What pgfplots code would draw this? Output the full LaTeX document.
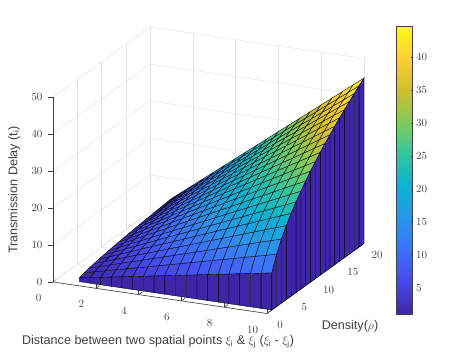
\documentclass[border=0pt]{standalone}
\usepackage{pgfplots}
\pgfplotsset{compat=1.18}
\usepackage{fontspec}
\setmainfont{Liberation Sans}
\definecolor{axc}{rgb}{0.25,0.25,0.25}
\pgfplotsset{colormap={parula}{rgb=(.2422,.1504,.6603) rgb=(.2803,.2782,.9221) rgb=(.2440,.4358,.9988) rgb=(.1540,.5902,.9218) rgb=(.0297,.7082,.8163) rgb=(.1938,.7758,.6251) rgb=(.5044,.7993,.3480) rgb=(.8203,.7498,.1535) rgb=(.9892,.8136,.1885) rgb=(.9769,.9839,.0805)}}
\newcommand{\fs}{\fontsize{11}{13}\selectfont}
\begin{document}
\begin{tikzpicture}[x=1pt,y=1pt]
\path[use as bounding box] (0,0) rectangle (474,355);
\begin{axis}[
  at={(53pt,73pt)}, anchor=origin,
  x={(21.4pt,-3.15pt)}, y={(4.85pt,3.5pt)}, z={(0pt,3.7pt)},
  xmin=0,xmax=10,ymin=0,ymax=20,zmin=0,zmax=50,
  xtick={0,2,4,6,8,10}, ytick={0,5,10,15,20}, ztick={0,10,20,30,40,50},
  axis x line*=bottom, axis y line*=left, axis z line*=left,
  grid=major, grid style={gray!22,line width=0.5pt},
  axis line style={color=axc,line width=0.6pt},
  tick style={color=axc,line width=0.6pt}, major tick length=4.5pt, tick align=inside,
  tick label style={font=\fs,text=axc},
  x tick label style={anchor=center,xshift=-14.5pt,yshift=-16pt},
  y tick label style={anchor=center,xshift=13pt,yshift=-11pt},
  z tick label style={anchor=east,xshift=-7pt},
  z tick style={draw=none},
  colormap name=parula, point meta min=1, point meta max=44.72,
  clip=false,
]
\addplot3[surf,shader=faceted,faceted color=black,line width=0.35pt,point meta=z,z buffer=sort,mesh/ordering=x varies,mesh/cols=19] coordinates {
(1,1,1)(1.5,1,1.5)(2,1,2)(2.5,1,2.5)(3,1,3)(3.5,1,3.5)(4,1,4)(4.5,1,4.5)(5,1,5)(5.5,1,5.5)(6,1,6)(6.5,1,6.5)(7,1,7)(7.5,1,7.5)(8,1,8)(8.5,1,8.5)(9,1,9)(9.5,1,9.5)(10,1,10)
(1,2,1.41)(1.5,2,2.12)(2,2,2.83)(2.5,2,3.54)(3,2,4.24)(3.5,2,4.95)(4,2,5.66)(4.5,2,6.36)(5,2,7.07)(5.5,2,7.78)(6,2,8.49)(6.5,2,9.19)(7,2,9.90)(7.5,2,10.61)(8,2,11.31)(8.5,2,12.02)(9,2,12.73)(9.5,2,13.44)(10,2,14.14)
(1,3,1.73)(1.5,3,2.60)(2,3,3.46)(2.5,3,4.33)(3,3,5.20)(3.5,3,6.06)(4,3,6.93)(4.5,3,7.79)(5,3,8.66)(5.5,3,9.53)(6,3,10.39)(6.5,3,11.26)(7,3,12.12)(7.5,3,12.99)(8,3,13.86)(8.5,3,14.72)(9,3,15.59)(9.5,3,16.45)(10,3,17.32)
(1,4,2)(1.5,4,3)(2,4,4)(2.5,4,5)(3,4,6)(3.5,4,7)(4,4,8)(4.5,4,9)(5,4,10)(5.5,4,11)(6,4,12)(6.5,4,13)(7,4,14)(7.5,4,15)(8,4,16)(8.5,4,17)(9,4,18)(9.5,4,19)(10,4,20)
(1,5,2.24)(1.5,5,3.35)(2,5,4.47)(2.5,5,5.59)(3,5,6.71)(3.5,5,7.83)(4,5,8.94)(4.5,5,10.06)(5,5,11.18)(5.5,5,12.30)(6,5,13.42)(6.5,5,14.53)(7,5,15.65)(7.5,5,16.77)(8,5,17.89)(8.5,5,19.01)(9,5,20.12)(9.5,5,21.24)(10,5,22.36)
(1,6,2.45)(1.5,6,3.67)(2,6,4.90)(2.5,6,6.12)(3,6,7.35)(3.5,6,8.57)(4,6,9.80)(4.5,6,11.02)(5,6,12.25)(5.5,6,13.47)(6,6,14.70)(6.5,6,15.92)(7,6,17.15)(7.5,6,18.37)(8,6,19.60)(8.5,6,20.82)(9,6,22.05)(9.5,6,23.27)(10,6,24.49)
(1,7,2.65)(1.5,7,3.97)(2,7,5.29)(2.5,7,6.61)(3,7,7.94)(3.5,7,9.26)(4,7,10.58)(4.5,7,11.91)(5,7,13.23)(5.5,7,14.55)(6,7,15.87)(6.5,7,17.20)(7,7,18.52)(7.5,7,19.84)(8,7,21.17)(8.5,7,22.49)(9,7,23.81)(9.5,7,25.13)(10,7,26.46)
(1,8,2.83)(1.5,8,4.24)(2,8,5.66)(2.5,8,7.07)(3,8,8.49)(3.5,8,9.90)(4,8,11.31)(4.5,8,12.73)(5,8,14.14)(5.5,8,15.56)(6,8,16.97)(6.5,8,18.38)(7,8,19.80)(7.5,8,21.21)(8,8,22.63)(8.5,8,24.04)(9,8,25.46)(9.5,8,26.87)(10,8,28.28)
(1,9,3)(1.5,9,4.5)(2,9,6)(2.5,9,7.5)(3,9,9)(3.5,9,10.5)(4,9,12)(4.5,9,13.5)(5,9,15)(5.5,9,16.5)(6,9,18)(6.5,9,19.5)(7,9,21)(7.5,9,22.5)(8,9,24)(8.5,9,25.5)(9,9,27)(9.5,9,28.5)(10,9,30)
(1,10,3.16)(1.5,10,4.74)(2,10,6.32)(2.5,10,7.91)(3,10,9.49)(3.5,10,11.07)(4,10,12.65)(4.5,10,14.23)(5,10,15.81)(5.5,10,17.39)(6,10,18.97)(6.5,10,20.55)(7,10,22.14)(7.5,10,23.72)(8,10,25.30)(8.5,10,26.88)(9,10,28.46)(9.5,10,30.04)(10,10,31.62)
(1,11,3.32)(1.5,11,4.97)(2,11,6.63)(2.5,11,8.29)(3,11,9.95)(3.5,11,11.61)(4,11,13.27)(4.5,11,14.92)(5,11,16.58)(5.5,11,18.24)(6,11,19.90)(6.5,11,21.56)(7,11,23.22)(7.5,11,24.87)(8,11,26.53)(8.5,11,28.19)(9,11,29.85)(9.5,11,31.51)(10,11,33.17)
(1,12,3.46)(1.5,12,5.20)(2,12,6.93)(2.5,12,8.66)(3,12,10.39)(3.5,12,12.12)(4,12,13.86)(4.5,12,15.59)(5,12,17.32)(5.5,12,19.05)(6,12,20.78)(6.5,12,22.52)(7,12,24.25)(7.5,12,25.98)(8,12,27.71)(8.5,12,29.44)(9,12,31.18)(9.5,12,32.91)(10,12,34.64)
(1,13,3.61)(1.5,13,5.41)(2,13,7.21)(2.5,13,9.01)(3,13,10.82)(3.5,13,12.62)(4,13,14.42)(4.5,13,16.22)(5,13,18.03)(5.5,13,19.83)(6,13,21.63)(6.5,13,23.44)(7,13,25.24)(7.5,13,27.04)(8,13,28.84)(8.5,13,30.65)(9,13,32.45)(9.5,13,34.25)(10,13,36.06)
(1,14,3.74)(1.5,14,5.61)(2,14,7.48)(2.5,14,9.35)(3,14,11.22)(3.5,14,13.10)(4,14,14.97)(4.5,14,16.84)(5,14,18.71)(5.5,14,20.58)(6,14,22.45)(6.5,14,24.32)(7,14,26.19)(7.5,14,28.06)(8,14,29.93)(8.5,14,31.80)(9,14,33.67)(9.5,14,35.55)(10,14,37.42)
(1,15,3.87)(1.5,15,5.81)(2,15,7.75)(2.5,15,9.68)(3,15,11.62)(3.5,15,13.56)(4,15,15.49)(4.5,15,17.43)(5,15,19.36)(5.5,15,21.30)(6,15,23.24)(6.5,15,25.17)(7,15,27.11)(7.5,15,29.05)(8,15,30.98)(8.5,15,32.92)(9,15,34.86)(9.5,15,36.79)(10,15,38.73)
(1,16,4)(1.5,16,6)(2,16,8)(2.5,16,10)(3,16,12)(3.5,16,14)(4,16,16)(4.5,16,18)(5,16,20)(5.5,16,22)(6,16,24)(6.5,16,26)(7,16,28)(7.5,16,30)(8,16,32)(8.5,16,34)(9,16,36)(9.5,16,38)(10,16,40)
(1,17,4.12)(1.5,17,6.18)(2,17,8.25)(2.5,17,10.31)(3,17,12.37)(3.5,17,14.43)(4,17,16.49)(4.5,17,18.55)(5,17,20.62)(5.5,17,22.68)(6,17,24.74)(6.5,17,26.80)(7,17,28.86)(7.5,17,30.92)(8,17,32.98)(8.5,17,35.05)(9,17,37.11)(9.5,17,39.17)(10,17,41.23)
(1,18,4.24)(1.5,18,6.36)(2,18,8.49)(2.5,18,10.61)(3,18,12.73)(3.5,18,14.85)(4,18,16.97)(4.5,18,19.09)(5,18,21.21)(5.5,18,23.33)(6,18,25.46)(6.5,18,27.58)(7,18,29.70)(7.5,18,31.82)(8,18,33.94)(8.5,18,36.06)(9,18,38.18)(9.5,18,40.31)(10,18,42.43)
(1,19,4.36)(1.5,19,6.54)(2,19,8.72)(2.5,19,10.90)(3,19,13.08)(3.5,19,15.26)(4,19,17.44)(4.5,19,19.62)(5,19,21.79)(5.5,19,23.97)(6,19,26.15)(6.5,19,28.33)(7,19,30.51)(7.5,19,32.69)(8,19,34.87)(8.5,19,37.05)(9,19,39.23)(9.5,19,41.41)(10,19,43.59)
(1,20,4.47)(1.5,20,6.71)(2,20,8.94)(2.5,20,11.18)(3,20,13.42)(3.5,20,15.65)(4,20,17.89)(4.5,20,20.12)(5,20,22.36)(5.5,20,24.60)(6,20,26.83)(6.5,20,29.07)(7,20,31.30)(7.5,20,33.54)(8,20,35.78)(8.5,20,38.01)(9,20,40.25)(9.5,20,42.49)(10,20,44.72)
};
% front skirt
\addplot3[surf,shader=faceted,faceted color=black,line width=0.35pt,point meta=1,mesh/ordering=x varies,mesh/cols=19] coordinates {
(1,1,0)(1.5,1,0)(2,1,0)(2.5,1,0)(3,1,0)(3.5,1,0)(4,1,0)(4.5,1,0)(5,1,0)(5.5,1,0)(6,1,0)(6.5,1,0)(7,1,0)(7.5,1,0)(8,1,0)(8.5,1,0)(9,1,0)(9.5,1,0)(10,1,0)
(1,1,1)(1.5,1,1.5)(2,1,2)(2.5,1,2.5)(3,1,3)(3.5,1,3.5)(4,1,4)(4.5,1,4.5)(5,1,5)(5.5,1,5.5)(6,1,6)(6.5,1,6.5)(7,1,7)(7.5,1,7.5)(8,1,8)(8.5,1,8.5)(9,1,9)(9.5,1,9.5)(10,1,10)
};
% right skirt
\addplot3[surf,shader=faceted,faceted color=black,line width=0.35pt,point meta=1,mesh/ordering=x varies,mesh/cols=20] coordinates {
(10,1,0)(10,2,0)(10,3,0)(10,4,0)(10,5,0)(10,6,0)(10,7,0)(10,8,0)(10,9,0)(10,10,0)(10,11,0)(10,12,0)(10,13,0)(10,14,0)(10,15,0)(10,16,0)(10,17,0)(10,18,0)(10,19,0)(10,20,0)
(10,1,10)(10,2,14.14)(10,3,17.32)(10,4,20)(10,5,22.36)(10,6,24.49)(10,7,26.46)(10,8,28.28)(10,9,30)(10,10,31.62)(10,11,33.17)(10,12,34.64)(10,13,36.06)(10,14,37.42)(10,15,38.73)(10,16,40)(10,17,41.23)(10,18,42.43)(10,19,43.59)(10,20,44.72)
};
\foreach \zz in {0,10,20,30,40,50} {
  \edef\tmp{\noexpand\draw[color=axc,line width=0.6pt] (axis cs:0,0,\zz) -- ++(-5pt,0pt);}\tmp
}
\end{axis}
\begin{axis}[
  at={(396pt,41pt)}, anchor=south west, scale only axis, width=16.5pt, height=288pt,
  xmin=0,xmax=1,ymin=1,ymax=44.72,
  xtick=\empty, ytick={5,10,15,20,25,30,35,40}, ytick pos=right, yticklabel pos=right,
  axis line style={color=axc,line width=0.6pt},
  tick style={color=axc,line width=0.6pt}, major tick length=2pt, tick align=inside,
  tick label style={font=\fs,text=axc},
  colormap name=parula, point meta min=1, point meta max=44.72,
  view={0}{90}, axis on top,
]
\addplot3[surf,shader=interp,point meta=y,mesh/ordering=x varies,mesh/cols=2] coordinates {
(0,1,0)(1,1,0)(0,5.86,0)(1,5.86,0)(0,10.72,0)(1,10.72,0)(0,15.57,0)(1,15.57,0)(0,20.43,0)(1,20.43,0)(0,25.29,0)(1,25.29,0)(0,30.15,0)(1,30.15,0)(0,35.01,0)(1,35.01,0)(0,39.86,0)(1,39.86,0)(0,44.72,0)(1,44.72,0)
};
\end{axis}
\node[font=\fontsize{12.6}{14}\selectfont,text=axc] at (158,13) {Distance between two spatial points $\xi_{\mbox{\footnotesize i}}$ \& $\xi_{\mbox{\footnotesize j}}$ ($\xi_{\mbox{\footnotesize i}}$ - $\xi_{\mbox{\footnotesize j}}$)};
\node[font=\fontsize{12.6}{14}\selectfont,text=axc] at (350,29) {Density($\rho$)};
\node[font=\fontsize{12.6}{14}\selectfont,text=axc,rotate=90] at (14,165) {Transmission Delay (t$_{\mbox{\footnotesize i}}$)};
\end{tikzpicture}
\end{document}
